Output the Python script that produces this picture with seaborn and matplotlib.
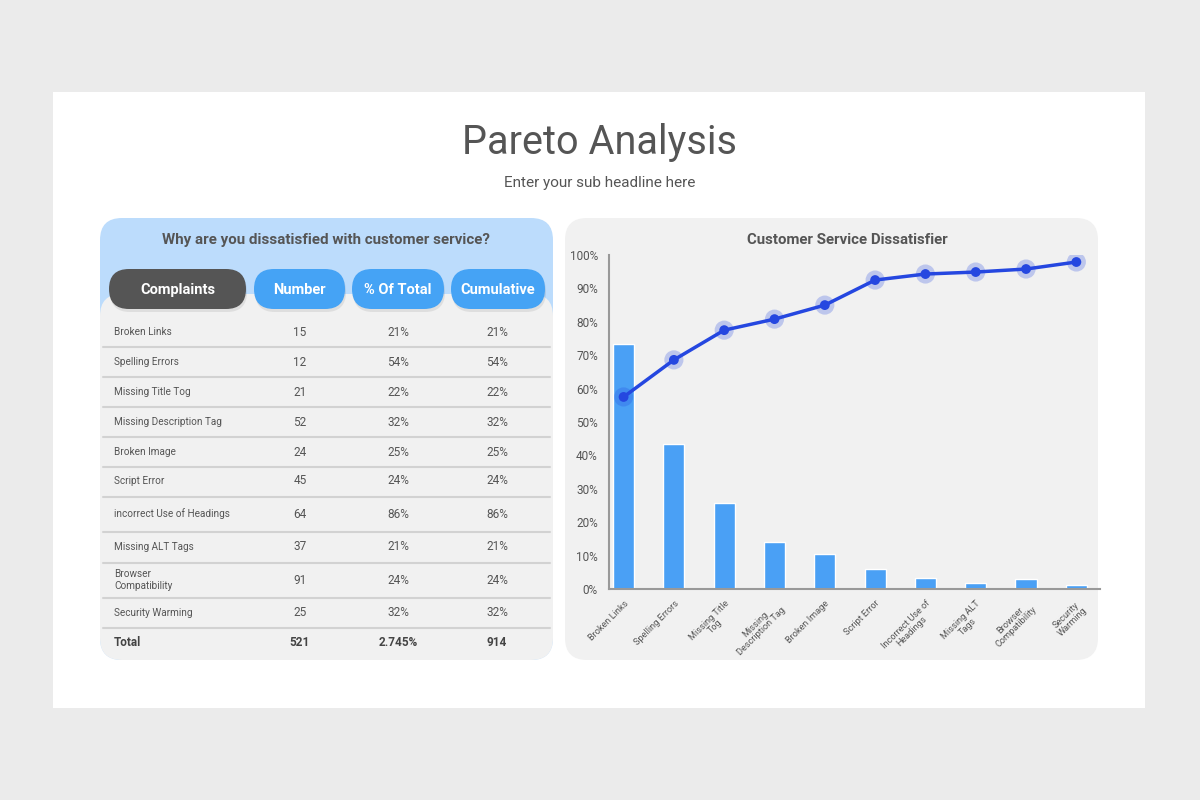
import numpy as np
import pandas as pd
import matplotlib.pyplot as plt
import seaborn as sns
from matplotlib.patches import FancyBboxPatch

# ---- data ----
complaints = ["Broken Links", "Spelling Errors", "Missing Title Tog", "Missing Description Tag",
              "Broken Image", "Script Error", "incorrect Use of Headings", "Missing ALT Tags",
              "Browser\nCompatibility", "Security Warming"]
numbers = [15, 12, 21, 52, 24, 45, 64, 37, 91, 25]
pct_of_total = ["21%", "54%", "22%", "32%", "25%", "24%", "86%", "21%", "24%", "32%"]
cumulative_col = ["21%", "54%", "22%", "32%", "25%", "24%", "86%", "21%", "24%", "32%"]
totals = ["521", "2.745%", "914"]
headers = ["Complaints", "Number", "% Of Total", "Cumulative"]

chart_labels = ["Broken Links", "Spelling Errors", "Missing Title\nTog", "Missing\nDescription Tag",
                "Broken Image", "Script Error", "Incorrect Use of\nHeadings", "Missing ALT\nTags",
                "Browser\nCompatibility", "Security\nWarming"]
bar_share = [73.4, 43.4, 25.7, 14.1, 10.5, 6.0, 3.3, 1.8, 3.0, 1.2]
cum_share = [57.5, 68.6, 77.5, 80.8, 85.0, 92.5, 94.3, 94.9, 95.8, 97.9]
y_ticks = [0, 10, 20, 30, 40, 50, 60, 70, 80, 90, 100]

df = pd.DataFrame({"label": chart_labels, "share": bar_share, "cumulative": cum_share})

TEXT = "#555555"
BAR_BLUE = "#4aa0f5"
PILL_BLUE = "#45a3f5"
LINE = "#2547e0"
PANEL = "#f1f1f1"

sns.set_theme(style="white")
plt.rcParams['font.family'] = ['Roboto', 'DejaVu Sans']

fig = plt.figure(figsize=(12, 8), dpi=100)
fig.patch.set_facecolor("#ebebeb")

# background layer in pixel coords
bg = fig.add_axes([0, 0, 1, 1])
bg.set_xlim(0, 1200)
bg.set_ylim(800, 0)
bg.axis("off")
bg.set_zorder(0)


def rbox(x, y, w, h, r, color, z=1, alpha=1.0):
    bg.add_patch(FancyBboxPatch((x, y), w, h, boxstyle=f"round,pad=0,rounding_size={r}",
                                fc=color, ec="none", zorder=z, alpha=alpha))


# white card
bg.add_patch(plt.Rectangle((53, 92), 1092, 616, fc="white", ec="none", zorder=0.5))
bg.text(600, 142, "Pareto Analysis", ha="center", va="center", fontsize=28.5, color=TEXT)
bg.text(600, 183, "Enter your sub headline here", ha="center", va="center", fontsize=11, color=TEXT)

# left panel
rbox(100, 218, 453, 442, 22, "#bcdcfc", z=1)
rbox(100, 294, 453, 366, 22, PANEL, z=1.2)
bg.text(326, 240, "Why are you dissatisfied with customer service?", ha="center", va="center",
        fontsize=10.9, weight="bold", color=TEXT)

pill_x = [(109, 246), (254, 345), (352, 444), (451, 545)]
for i, (name, (x0, x1)) in enumerate(zip(headers, pill_x)):
    col = "#555555" if i == 0 else PILL_BLUE
    rbox(x0 + 1, 272, x1 - x0, 40, 20, "#000000", z=1.5, alpha=0.08)
    rbox(x0, 269, x1 - x0, 40, 20, col, z=2)
    bg.text((x0 + x1) / 2, 290, name, ha="center", va="center", fontsize=10.5,
            weight="bold", color="white", zorder=3)

row_y = [332, 362, 392, 422, 452, 481, 514, 547, 580, 613]
sep_y = [347, 377, 407, 437, 467, 497, 532, 563, 598, 628]
col_x = [300, 398, 497]
for i, name in enumerate(complaints):
    y = row_y[i]
    bg.text(114, y, name, ha="left", va="center", fontsize=7.2, color=TEXT, zorder=3, linespacing=1.3)
    for cx, val in zip(col_x, [str(numbers[i]), pct_of_total[i], cumulative_col[i]]):
        bg.text(cx, y, val, ha="center", va="center", fontsize=8.5, color=TEXT, zorder=3)
    bg.plot([103, 550], [sep_y[i], sep_y[i]], color="#d2d2d2", lw=1.5, zorder=2.5)
bg.text(114, 643, "Total", ha="left", va="center", fontsize=8.5, weight="bold", color="#444444", zorder=3)
for cx, val in zip(col_x, totals):
    bg.text(cx, 643, val, ha="center", va="center", fontsize=8.5, weight="bold", color="#444444", zorder=3)

# right panel
rbox(565, 218, 533, 442, 22, PANEL, z=1)
bg.text(847, 240, "Customer Service Dissatisfier", ha="center", va="center",
        fontsize=10.8, weight="bold", color=TEXT)

# ---- pareto chart ----
ax = fig.add_axes([609 / 1200, 1 - 589 / 800, 491 / 1200, 334 / 800])
ax.set_zorder(2)
ax.set_facecolor("none")

sns.barplot(data=df, x="label", y="share", color=BAR_BLUE, saturation=1, width=0.42, ax=ax, zorder=2)
sns.scatterplot(data=df, x="label", y="cumulative", s=190, color=LINE, alpha=0.25,
                edgecolor="none", ax=ax, zorder=3)
sns.lineplot(data=df, x="label", y="cumulative", sort=False, color=LINE, lw=2.5, ax=ax, zorder=4)
sns.scatterplot(data=df, x="label", y="cumulative", s=50, color=LINE, edgecolor="none", ax=ax, zorder=5)

ax.set_xlim(-0.29, 9.47)
ax.set_ylim(0, 100)
ax.set_yticks(y_ticks)
ax.set_yticklabels([f"{v}%" for v in y_ticks], fontsize=8.5, color=TEXT)
ax.set_xticks(range(len(chart_labels)))
ax.set_xticklabels(chart_labels, rotation=45, ha="right", rotation_mode="anchor",
                   fontsize=6.6, color=TEXT, multialignment="center", linespacing=1.0)
ax.tick_params(axis="both", length=0)
ax.tick_params(axis="y", pad=8)
ax.tick_params(axis="x", pad=7)
ax.set_xlabel("")
ax.set_ylabel("")
for side in ["top", "right"]:
    ax.spines[side].set_visible(False)
for side in ["left", "bottom"]:
    ax.spines[side].set_color("#999999")
    ax.spines[side].set_linewidth(1.5)
ax.grid(False)

fig.savefig("out.png", dpi=100, facecolor=fig.get_facecolor())
